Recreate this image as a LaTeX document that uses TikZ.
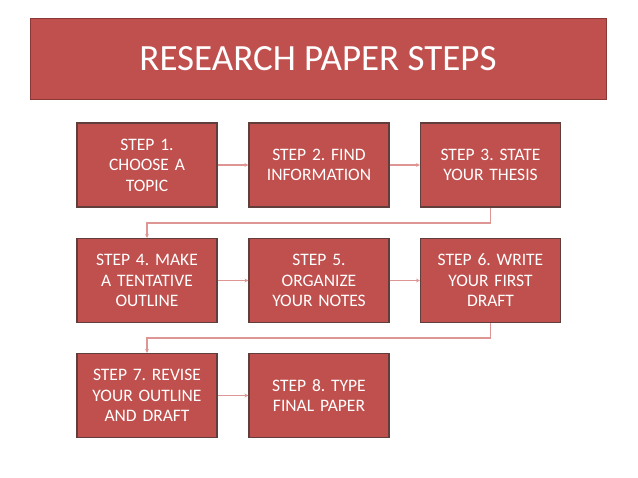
\documentclass[tikz,border=0pt]{standalone}
\usepackage{fontspec}
\setmainfont{Carlito}
\usetikzlibrary{arrows.meta}
\definecolor{boxred}{RGB}{192,80,77}
\definecolor{boxedge}{RGB}{95,62,60}
\definecolor{titleedge}{RGB}{140,56,54}
\definecolor{linkpink}{RGB}{222,150,148}
\tikzset{
  stepbox/.style={draw=boxedge, line width=1.1pt, fill=boxred, minimum width=140pt, minimum height=84pt,
    text width=128pt, align=center, text=white, inner sep=0pt,
    font=\frenchspacing\fontsize{17.5}{20.5}\selectfont},
  titlebox/.style={draw=titleedge, line width=0.8pt, fill=boxred, minimum width=576pt, minimum height=81pt,
    text=white, font=\fontsize{37}{42}\selectfont},
  link/.style={draw=linkpink, line width=1.1pt, -{Stealth[length=4pt,width=4pt]}}
}
\begin{document}
\frenchspacing
\begin{tikzpicture}[x=1pt,y=-1pt]
\path[use as bounding box, fill=white] (0,0) rectangle (638,478);
\node[titlebox] (title) at (318,58.5) {RESEARCH PAPER STEPS};
\node[stepbox] (s1) at (147,165) {STEP 1.\\CHOOSE A\\TOPIC};
\node[stepbox] (s2) at (319,165) {STEP 2. FIND\\INFORMATION};
\node[stepbox] (s3) at (490.5,165) {STEP 3. STATE\\YOUR THESIS};
\node[stepbox] (s4) at (147,280.5) {STEP 4. MAKE\\A TENTATIVE\\OUTLINE};
\node[stepbox] (s5) at (319,280.5) {STEP 5.\\ORGANIZE\\YOUR NOTES};
\node[stepbox] (s6) at (490.5,280.5) {STEP 6. WRITE\\YOUR FIRST\\DRAFT};
\node[stepbox] (s7) at (147,395.5) {STEP 7. REVISE\\YOUR OUTLINE\\AND DRAFT};
\node[stepbox] (s8) at (319,395.5) {STEP 8. TYPE\\FINAL PAPER};
\draw[link] (s1.east) -- (s2.west);
\draw[link] (s2.east) -- (s3.west);
\draw[link] (s3.south) -- ++(0,15.5) -| (s4.north);
\draw[link] (s4.east) -- (s5.west);
\draw[link] (s5.east) -- (s6.west);
\draw[link] (s6.south) -- ++(0,15) -| (s7.north);
\draw[link] (s7.east) -- (s8.west);
\end{tikzpicture}
\end{document}
